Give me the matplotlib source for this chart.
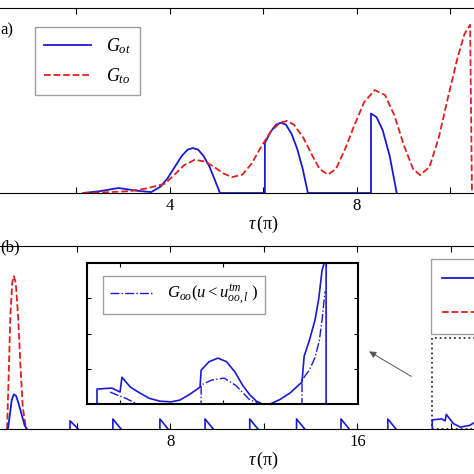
import numpy as np
import matplotlib.pyplot as plt
from matplotlib.patches import Rectangle

plt.rcParams["font.family"] = ["Liberation Serif", "DejaVu Serif"]
plt.rcParams["mathtext.fontset"] = "custom"
plt.rcParams["mathtext.it"] = "Liberation Serif:italic"
plt.rcParams["mathtext.rm"] = "Liberation Serif"

# panel (a) curves
a_got_tau = [2.14, 2.5, 2.9, 3.3, 3.6, 3.8, 3.95, 4.1, 4.25, 4.38, 4.49, 4.6, 4.72, 4.85, 4.96, 5.07,
             6.03, 6.03, 6.15, 6.27, 6.37, 6.48, 6.6, 6.72, 6.84, 6.95,
             8.3, 8.3, 8.42, 8.55, 8.7, 8.85]
a_got_val = [0.0, 0.01, 0.027, 0.012, 0.005, 0.035, 0.08, 0.14, 0.2, 0.235, 0.243, 0.235, 0.2, 0.14, 0.07, 0.0,
             0.0, 0.27, 0.33, 0.37, 0.38, 0.37, 0.32, 0.24, 0.13, 0.0,
             0.0, 0.43, 0.41, 0.34, 0.2, 0.0]
a_gto_tau = [2.14, 2.7, 3.14, 3.5, 3.89, 4.1, 4.3, 4.53, 4.75, 4.95, 5.15, 5.33, 5.55, 5.75, 5.95, 6.15, 6.35, 6.5,
             6.65, 6.85, 7.05, 7.2, 7.38, 7.55, 7.75, 7.95, 8.15, 8.38, 8.6, 8.8, 9.0, 9.2, 9.35,
             9.55, 9.75, 9.95, 10.15, 10.3, 10.42, 10.46]
a_gto_val = [0.0, 0.005, 0.01, 0.025, 0.05, 0.1, 0.15, 0.18, 0.17, 0.14, 0.105, 0.086, 0.1, 0.16, 0.25, 0.33, 0.38, 0.39,
             0.37, 0.3, 0.2, 0.13, 0.10, 0.13, 0.24, 0.37, 0.49, 0.557, 0.53, 0.42, 0.26, 0.13, 0.097,
             0.14, 0.3, 0.52, 0.73, 0.86, 0.91, 0.0]

# panel (b) main curves
b_red_tau = [1.03, 1.1, 1.17, 1.25, 1.32, 1.4, 1.5, 1.6, 1.7, 1.84]
b_red_val = [0.0, 0.3, 0.62, 0.8, 0.836, 0.8, 0.62, 0.35, 0.12, 0.0]
b_blue_tau = [1.07, 1.15, 1.23, 1.32, 1.42, 1.52, 1.65, 1.78, 1.88]
b_blue_val = [0.0, 0.08, 0.16, 0.19, 0.18, 0.14, 0.08, 0.02, 0.0]
tooth_tau = [3.72, 5.55, 7.56, 9.49, 11.4, 13.4, 15.3, 17.3]
tooth_h = [0.045, 0.055, 0.055, 0.055, 0.055, 0.055, 0.055, 0.055]
tail_tau = [19.2, 19.2, 19.6, 19.75, 19.8, 20.1, 20.4, 20.8, 21.2]
tail_val = [0.0, 0.05, 0.055, 0.045, 0.08, 0.03, 0.01, 0.02, 0.05]

# inset curves (normalised inset coordinates)
in_solid_x = [0.037, 0.037, 0.092, 0.122, 0.129, 0.16, 0.195, 0.23, 0.269, 0.31, 0.343, 0.38, 0.417, 0.421,
              0.45, 0.483, 0.515, 0.546, 0.575, 0.601, 0.625, 0.646, 0.675, 0.71, 0.749, 0.793, 0.801,
              0.82, 0.841, 0.855, 0.867, 0.875, 0.882, 0.882]
in_solid_y = [0.0, 0.106, 0.113, 0.085, 0.19, 0.12, 0.078, 0.04, 0.02, 0.015, 0.028, 0.07, 0.12, 0.24,
              0.3, 0.326, 0.3, 0.227, 0.13, 0.064, 0.02, 0.0, 0.0, 0.03, 0.078, 0.156, 0.34,
              0.45, 0.596, 0.75, 0.95, 1.0, 1.0, 0.0]
in_dd_x = [0.085, 0.11, 0.140, 0.185, 0.421, 0.421, 0.46, 0.506, 0.55, 0.601, 0.646, 0.793, 0.793,
           0.82, 0.841, 0.857, 0.867, 0.878]
in_dd_y = [0.085, 0.065, 0.043, 0.0, 0.0, 0.135, 0.17, 0.184, 0.13, 0.028, 0.0, 0.0, 0.17,
           0.24, 0.33, 0.45, 0.596, 0.8]

fig = plt.figure(figsize=(4.74, 4.74), dpi=100)

# ---- panel (a)
ax1 = fig.add_axes([-0.0359, 0.5928, 1.1835, 0.390])
l1, = ax1.plot(a_got_tau, a_got_val, "-", color="#1a1ad0", lw=1.3, label=r"$G_{ot}$")
l2, = ax1.plot(a_gto_tau, a_gto_val, "--", color="#e02020", lw=1.3, label=r"$G_{to}$")
ax1.set_xlim(0, 12)
ax1.set_ylim(0, 1)
ax1.set_xticks([2, 4, 6, 8, 10])
ax1.set_xticklabels(["", "4", "", "8", ""])
ax1.set_yticks([])
ax1.tick_params(direction="in", top=True, labelsize=12, length=4)
ax1.set_xlabel(r"$\tau\,$(π)", fontsize=13, labelpad=0)
ax1.legend(handles=[l1, l2], loc="upper left", bbox_to_anchor=(0.077, 0.947),
           fontsize=13, fancybox=False, edgecolor="#888888", handlelength=2.6,
           borderpad=0.5, labelspacing=0.6)
fig.text(0.0, 0.935, "a)", fontsize=12, va="center")

# ---- panel (b)
ax2 = fig.add_axes([-0.0359, 0.0949, 1.1848, 0.386])
ax2.plot(b_red_tau, b_red_val, "--", color="#e02020", lw=1.3)
ax2.plot(b_blue_tau, b_blue_val, "-", color="#1a1ad0", lw=1.3)
for t, h in zip(tooth_tau, tooth_h):
    ax2.plot([t, t, t + 0.35], [0, h, 0], "-", color="#1a1ad0", lw=1.2)
ax2.plot(tail_tau, tail_val, "-", color="#1a1ad0", lw=1.2)
ax2.add_patch(Rectangle((19.2, 0.0), 6, 0.5, fill=False, ls=":", lw=1.3, ec="#333333"))
ax2.annotate("", xy=(16.4, 0.432), xytext=(18.4, 0.28),
             arrowprops=dict(arrowstyle="-|>", color="#555555", lw=0.7))
lb1, = ax2.plot([], [], "-", color="#1a1ad0", lw=1.3, label=r"$G_{oo}$")
lb2, = ax2.plot([], [], "--", color="#e02020", lw=1.3, label=r"$G_{ii}$")
ax2.legend(handles=[lb1, lb2], loc="upper left", bbox_to_anchor=(0.782, 0.98),
           fontsize=13, fancybox=False, edgecolor="#888888", handlelength=2.6,
           borderpad=0.6, labelspacing=0.8)
ax2.set_xlim(0, 24)
ax2.set_ylim(0, 1)
ax2.set_xticks([4, 8, 12, 16, 20])
ax2.set_xticklabels(["", "8", "", "16", ""])
ax2.set_yticks([])
ax2.tick_params(direction="in", top=True, labelsize=12, length=4)
ax2.set_xlabel(r"$\tau\,$(π)", fontsize=13, labelpad=0)
fig.text(0.0, 0.478, "(b)", fontsize=12, va="center")

# ---- inset
axi = fig.add_axes([0.1835, 0.1477, 0.572, 0.297])
axi.plot(in_solid_x, in_solid_y, "-", color="#1a1ad0", lw=1.2)
ld, = axi.plot(in_dd_x, in_dd_y, "-.", color="#1a1ad0", lw=1.0,
               label=r"$G_{oo}(u<u^{tm}_{oo,l}\ )$")
axi.set_xlim(0, 1)
axi.set_ylim(0, 1)
axi.set_xticks([0.12, 0.5, 0.88])
axi.set_yticks([0.25, 0.5, 0.75])
axi.set_xticklabels([])
axi.set_yticklabels([])
axi.tick_params(direction="in", top=True, right=True, length=3)
for s in axi.spines.values():
    s.set_linewidth(1.5)
axi.legend(handles=[ld], loc="upper left", bbox_to_anchor=(0.03, 0.97),
           fontsize=12, fancybox=False, edgecolor="#888888", handlelength=2.6)

fig.savefig("out.png", dpi=100)
